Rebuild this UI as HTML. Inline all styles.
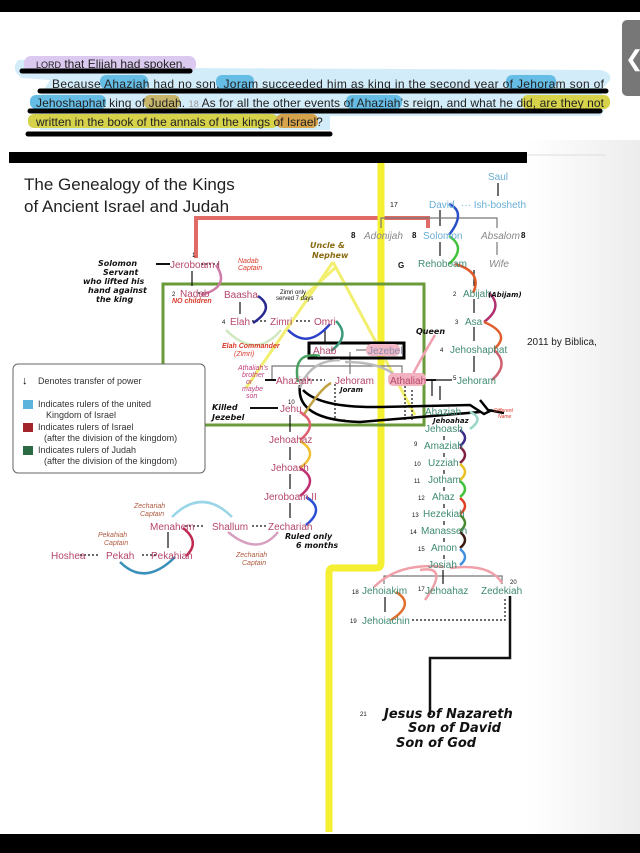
<!DOCTYPE html>
<html><head><meta charset="utf-8"><style>
html,body{margin:0;padding:0;background:#fff;}
svg{display:block;font-family:"Liberation Sans",sans-serif;}
.i{fill:#b5476a;font-size:10px}
.j{fill:#3f8a72;font-size:10px}
.u{fill:#6aaed6;font-size:10px}
.g{fill:#888;font-size:10px;font-style:italic}
.h{fill:#111;font-size:8px;font-style:italic;font-weight:bold;font-family:"DejaVu Sans",sans-serif}
.r{fill:#d93a2a;font-size:7px;font-style:italic}
.n{fill:#111;font-size:6px}
.arc{fill:none;stroke-width:2.5}
.bt{font-size:12px;fill:#222}
</style></head><body>
<svg width="640" height="853" viewBox="0 0 640 853">
<defs><linearGradient id="gr" x1="0" x2="1"><stop offset="0" stop-color="#fff"/><stop offset="1" stop-color="#ececec"/></linearGradient></defs>
<rect width="640" height="853" fill="#fff"/>
<rect x="527" y="140" width="113" height="700" fill="url(#gr)"/>
<rect x="0" y="0" width="640" height="12" fill="#000"/>
<rect x="622" y="20" width="22" height="76" rx="5" fill="#777"/>
<text x="625" y="66" font-size="22" fill="#fff">❮</text>
<!-- highlights -->
<path d="M18,60 Q10,70 22,78 L50,80 L40,96 Q28,108 40,114 L40,130 L330,130 L330,116 L600,116 Q612,104 600,92 L610,80 Q612,72 600,70 L190,68 L185,58 Z" fill="#d3ecf9"/>
<rect x="24" y="56" width="172" height="16" rx="7" fill="#dcc9f0"/>
<rect x="100" y="75" width="48" height="14" rx="6" fill="#65bde6"/>
<rect x="216" y="75" width="38" height="14" rx="6" fill="#65bde6"/>
<rect x="506" y="75" width="50" height="14" rx="6" fill="#65bde6"/>
<rect x="30" y="95" width="76" height="14" rx="6" fill="#65bde6"/>
<rect x="144" y="95" width="36" height="14" rx="6" fill="#c7b56a"/>
<rect x="346" y="95" width="56" height="14" rx="6" fill="#65bde6"/>
<rect x="522" y="95" width="88" height="14" rx="6" fill="#d6d24a"/>
<rect x="28" y="114" width="250" height="14" rx="6" fill="#d6d24a"/>
<rect x="276" y="114" width="42" height="14" rx="6" fill="#d6a24a"/>
<g class="bt">
<text x="36" y="68"><tspan font-size="9">LORD</tspan> that Elijah had spoken.</text>
<text x="52" y="88" textLength="552">Because Ahaziah had no son, Joram succeeded him as king in the second year of Jehoram son of</text>
<text x="36" y="107" textLength="568">Jehoshaphat king of Judah. <tspan fill="#999" font-size="9">18</tspan> As for all the other events of Ahaziah’s reign, and what he did, are they not</text>
<text x="36" y="126">written in the book of the annals of the kings of Israel?</text>
</g>
<g stroke="#000" stroke-linecap="round" fill="none">
<line x1="22" y1="71" x2="190" y2="71" stroke-width="5"/>
<line x1="40" y1="91" x2="606" y2="91" stroke-width="5"/>
<line x1="30" y1="111" x2="600" y2="111" stroke-width="5"/>
<line x1="28" y1="134" x2="330" y2="134" stroke-width="5"/>
</g>
<line x1="330" y1="155" x2="606" y2="155" stroke="#ddd"/>
<rect x="9" y="152" width="518" height="11" fill="#000"/>
<rect x="0" y="834" width="640" height="19" fill="#000"/>
<!-- title -->
<text x="24" y="190" font-size="17" fill="#222">The Genealogy of the Kings</text>
<text x="24" y="212" font-size="17" fill="#222">of Ancient Israel and Judah</text>
<!-- red line -->
<path d="M196,258 V218 H428 V228" fill="none" stroke="#e06b66" stroke-width="4"/>
<!-- yellow -->
<path d="M381,163 V245 M381,245 V563 Q381,568 376,568 H333 Q329,568 329,573 V832" fill="none" stroke="#f4ef30" stroke-width="7"/>
<path d="M333,262 L246,388 M333,262 L415,415 M335,268 L300,300" fill="none" stroke="#f2ef70" stroke-width="3"/>
<!-- green rect -->
<rect x="163" y="284" width="261" height="141" fill="none" stroke="#6a9a3a" stroke-width="3"/>
<!-- legend -->
<rect x="13" y="364" width="192" height="109" rx="5" fill="#fff" stroke="#666"/>
<text x="22" y="384" font-size="11">↓</text><text x="38" y="384" font-size="9" fill="#333">Denotes transfer of power</text>
<rect x="23" y="400" width="10" height="9" fill="#5ab4dc"/><text x="38" y="407" font-size="9" fill="#333">Indicates rulers of the united</text>
<text x="46" y="418" font-size="9" fill="#333">Kingdom of Israel</text>
<rect x="23" y="423" width="10" height="9" fill="#a3242a"/><text x="38" y="430" font-size="9" fill="#333">Indicates rulers of Israel</text>
<text x="44" y="441" font-size="9" fill="#333">(after the division of the kingdom)</text>
<rect x="23" y="446" width="10" height="9" fill="#2c6a44"/><text x="38" y="453" font-size="9" fill="#333">Indicates rulers of Judah</text>
<text x="44" y="464" font-size="9" fill="#333">(after the division of the kingdom)</text>
<text x="527" y="345" font-size="10" fill="#222">2011 by Biblica,</text>
<!-- Judah tree lines -->
<g stroke="#111" fill="none" stroke-width="1.2">
<line x1="498" y1="183" x2="498" y2="196"/><line x1="440" y1="210" x2="440" y2="226"/>
<path d="M381,228 V218 H497 V228" stroke="#777"/><line x1="497" y1="242" x2="497" y2="255" stroke="#777"/>
<line x1="440" y1="242" x2="440" y2="256"/>
<line x1="474" y1="270" x2="474" y2="286"/><line x1="474" y1="299" x2="474" y2="313"/>
<line x1="474" y1="327" x2="474" y2="341"/><line x1="474" y1="356" x2="474" y2="372"/>
<path d="M440,386 V400 M428,380 H452" />
<line x1="444" y1="436" x2="444" y2="440"/><line x1="444" y1="453" x2="444" y2="457"/><line x1="444" y1="470" x2="444" y2="474"/><line x1="444" y1="487" x2="444" y2="491"/><line x1="444" y1="504" x2="444" y2="508"/><line x1="444" y1="521" x2="444" y2="525"/><line x1="444" y1="538" x2="444" y2="542"/><line x1="444" y1="555" x2="444" y2="559"/>
<path d="M384,584 V576 H502 V584" stroke="#777"/><line x1="443" y1="570" x2="443" y2="584"/>
<line x1="385" y1="597" x2="385" y2="612"/>
<path d="M412,620 H505 V598" stroke-dasharray="2 2"/>
<path d="M510,596 V658 H430 V715" stroke-width="2.5"/>
<!-- israel -->
<line x1="192" y1="271" x2="192" y2="286"/><line x1="240" y1="302" x2="240" y2="314"/>
<line x1="325" y1="328" x2="325" y2="343"/>
<path d="M272,380 V366 H402 V374" stroke="#777"/><line x1="350" y1="352" x2="350" y2="374" stroke="#777"/>
<path d="M356,350 H378" stroke="#777"/>
<line x1="290" y1="415" x2="290" y2="432"/><line x1="290" y1="447" x2="290" y2="460"/><line x1="290" y1="474" x2="290" y2="489"/><line x1="290" y1="503" x2="290" y2="518"/>
<line x1="168" y1="532" x2="168" y2="548"/>
<path d="M201,264 H219 M198,293 H210 M252,321 H266 M296,321 H312 M142,555 H156 M80,555 H100 M185,526 H204 M252,526 H268 M300,380 H325" stroke-dasharray="2 2"/>
<path d="M265,380 H276 M250,408 H278 M156,264 H170 M423,380 H436" stroke-width="2"/>
<path d="M432,380 V396" />
<path d="M345,420 H335 V382 M405,420 V386 M412,420 V390" stroke-dasharray="2 2"/>
</g>
<!-- black bold -->
<rect x="309" y="343" width="95" height="15" fill="none" stroke="#000" stroke-width="3"/>
<path d="M303,390 Q320,408 380,407 L470,405 L484,414 L492,410 M300,385 Q295,420 360,422 L480,412 M480,400 L488,410 L504,413" fill="none" stroke="#000" stroke-width="2.5"/>
<!-- colored arcs -->
<g class="arc">
<path d="M449,204 q18,8 0,31" stroke="#2a50c8"/>
<path d="M449,236 q18,12 0,28" stroke="#42c23a"/>
<path d="M455,264 q28,8 18,29" stroke="#e05a2a"/>
<path d="M489,293 q15,14 -5,29" stroke="#b03070"/>
<path d="M484,322 q28,12 10,27" stroke="#e06030"/>
<path d="M494,350 q16,14 -2,30" stroke="#d06070"/>
<path d="M470,412 q15,6 0,17" stroke="#9ad6c8"/>
<path d="M460,430 q10,8 0,16" stroke="#3a2a8a"/>
<path d="M460,447 q10,8 0,16" stroke="#802040"/>
<path d="M460,464 q10,8 0,16" stroke="#e8c020"/>
<path d="M460,481 q10,8 0,16" stroke="#42c23a"/>
<path d="M460,498 q10,8 0,16" stroke="#e04020"/>
<path d="M460,515 q10,8 0,16" stroke="#4a8a30"/>
<path d="M460,532 q10,8 0,16" stroke="#3a1a10"/>
<path d="M460,549 q10,8 0,16" stroke="#4090e0"/>
<path d="M396,592 q20,12 -5,28" stroke="#e07030"/>
<path d="M216,265 q15,22 -15,30" stroke="#d07aa8"/>
<path d="M258,296 q18,12 -5,27" stroke="#2a2a90"/>
<path d="M226,330 q30,30 55,0" stroke="#cfe8c0"/>
<path d="M288,330 q20,20 42,-6" stroke="#2a40c8"/>
<path d="M336,321 q15,15 -5,30" stroke="#3a9a78"/>
<path d="M320,356 q-28,-5 -22,26" stroke="#4aa060"/>
<path d="M340,360 q-30,0 -40,28 M345,362 q40,0 55,18" stroke="#bbb"/>
<path d="M303,416 q18,-28 28,-33" stroke="#c0a040"/>
<path d="M300,412 q20,12 0,28" stroke="#e06070"/>
<path d="M300,441 q20,12 0,27" stroke="#f0c030"/>
<path d="M300,468 q20,12 0,28" stroke="#c03070"/>
<path d="M306,497 q20,12 0,28" stroke="#2a50d8"/>
<path d="M172,517 q30,-30 60,0" stroke="#9ad6e8"/>
<path d="M228,532 q30,25 50,0" stroke="#d8a0c0"/>
<path d="M183,528 q18,14 3,28" stroke="#c02a50"/>
<path d="M120,562 q25,25 55,-5" stroke="#3a90b8"/>
<path d="M374,587 q25,-25 70,-20 M420,570 q30,-5 5,30 M450,568 q40,-5 52,15" stroke="#f0a0a8"/>
<path d="M410,380 q10,-20 25,-45" stroke="#f0a0b0"/>
</g>
<rect x="388" y="373" width="38" height="13" rx="5" fill="#f2b2c0"/>
<rect x="366" y="344" width="34" height="12" rx="5" fill="#f0b8c4"/>
<!-- Judah names -->
<text x="488" y="180" class="u">Saul</text>
<text x="429" y="208" class="u">David</text><text x="461" y="208" class="u">··· Ish-bosheth</text>
<text x="364" y="239" class="g">Adonijah</text><text x="423" y="239" class="u">Solomon</text><text x="481" y="239" class="g">Absalom</text>
<text x="418" y="267" class="j">Rehoboam</text><text x="489" y="267" class="g">Wife</text>
<text x="463" y="297" class="j">Abijah</text><text x="465" y="325" class="j">Asa</text>
<text x="450" y="353" class="j">Jehoshaphat</text><text x="457" y="384" class="j">Jehoram</text>
<text x="425" y="415" class="j">Ahaziah</text><text x="425" y="432" class="j">Jehoash</text>
<text x="424" y="449" class="j">Amaziah</text><text x="428" y="466" class="j">Uzziah</text>
<text x="428" y="483" class="j">Jotham</text><text x="432" y="500" class="j">Ahaz</text>
<text x="423" y="517" class="j">Hezekiah</text><text x="421" y="534" class="j">Manasseh</text>
<text x="431" y="551" class="j">Amon</text><text x="428" y="568" class="j">Josiah</text>
<text x="362" y="594" class="j">Jehoiakim</text><text x="425" y="594" class="j">Jehoahaz</text><text x="481" y="594" class="j">Zedekiah</text>
<text x="362" y="624" class="j">Jehoiachin</text>
<!-- Israel names -->
<text x="170" y="268" class="i">Jeroboam I</text>
<text x="180" y="297" class="i">Nadab</text><text x="224" y="298" class="i">Baasha</text>
<text x="230" y="325" class="i">Elah</text><text x="270" y="325" class="i">Zimri</text><text x="314" y="325" class="i">Omri</text>
<text x="313" y="354" class="i">Ahab</text><text x="368" y="354" class="i" style="fill:#8a8ab0">Jezebel</text>
<text x="276" y="384" class="i">Ahaziah</text><text x="335" y="384" class="i">Jehoram</text><text x="390" y="384" class="i">Athaliah</text>
<text x="280" y="412" class="i">Jehu</text><text x="269" y="443" class="i">Jehoahaz</text>
<text x="271" y="471" class="i">Jehoash</text><text x="264" y="500" class="i">Jeroboam II</text>
<text x="268" y="530" class="i">Zechariah</text><text x="212" y="530" class="i">Shallum</text><text x="150" y="530" class="i">Menahem</text>
<text x="151" y="559" class="i">Pekahiah</text><text x="106" y="559" class="i">Pekah</text><text x="51" y="559" class="i">Hoshea</text>
<!-- handwriting -->
<text x="98" y="266" class="h">Solomon</text><text x="103" y="275" class="h">Servant</text>
<text x="83" y="284" class="h">who lifted his</text><text x="88" y="293" class="h">hand against</text><text x="96" y="302" class="h">the king</text>
<text x="238" y="263" class="r">Nadab</text><text x="238" y="270" class="r">Captain</text>
<text x="172" y="303" class="r" style="font-weight:bold">NO children</text>
<text x="222" y="348" class="r" style="font-weight:bold">Elah Commander</text><text x="234" y="356" class="r">(Zimri)</text>
<text x="238" y="370" class="r" style="fill:#c04080">Athaliah's</text><text x="242" y="377" class="r" style="fill:#c04080">brother</text><text x="246" y="384" class="r" style="fill:#c04080">or</text><text x="242" y="391" class="r" style="fill:#c04080">maybe</text><text x="246" y="398" class="r" style="fill:#c04080">son</text>
<text x="212" y="410" class="h">Killed</text><text x="212" y="420" class="h">Jezebel</text>
<text x="280" y="294" class="n">Zimri only</text><text x="276" y="300" class="n">served 7 days</text>
<text x="310" y="248" class="h" style="fill:#8a6a10">Uncle &amp;</text><text x="312" y="258" class="h" style="fill:#8a6a10">Nephew</text>
<text x="416" y="334" class="h">Queen</text>
<text x="340" y="392" class="h" style="font-size:7px">Joram</text>
<text x="433" y="423" class="h" style="font-size:7px">Jehoahaz</text>
<text x="494" y="412" class="r" style="font-size:5px">Different</text><text x="498" y="418" class="r" style="font-size:5px">Name</text>
<text x="488" y="297" class="h" style="font-size:7px">(Abijam)</text>
<text x="134" y="508" class="r" style="fill:#b05a40">Zechariah</text><text x="140" y="516" class="r" style="fill:#b05a40">Captain</text>
<text x="98" y="537" class="r" style="fill:#b05a40">Pekahiah</text><text x="104" y="545" class="r" style="fill:#b05a40">Captain</text>
<text x="236" y="557" class="r" style="fill:#b05a40">Zechariah</text><text x="242" y="565" class="r" style="fill:#b05a40">Captain</text>
<text x="285" y="539" class="h">Ruled only</text><text x="296" y="548" class="h">6 months</text>
<text x="384" y="718" class="h" style="font-size:13px">Jesus of Nazareth</text>
<text x="408" y="732" class="h" style="font-size:13px">Son of David</text>
<text x="396" y="747" class="h" style="font-size:13px">Son of God</text>
<text x="360" y="716" class="n">21</text>
<text x="390" y="207" class="n" style="font-size:7px">17</text>
<text x="351" y="238" class="n" style="font-size:8px;font-weight:bold">8</text><text x="412" y="238" class="n" style="font-size:8px;font-weight:bold">8</text><text x="521" y="238" class="n" style="font-size:8px;font-weight:bold">8</text>
<text x="398" y="268" class="n" style="font-size:8px;font-weight:bold">G</text>
<text x="453" y="296" class="n">2</text><text x="455" y="324" class="n">3</text><text x="440" y="352" class="n">4</text><text x="453" y="380" class="n">5</text>
<text x="414" y="446" class="n">9</text><text x="414" y="466" class="n">10</text><text x="414" y="483" class="n">11</text><text x="418" y="500" class="n">12</text><text x="412" y="517" class="n">13</text><text x="410" y="534" class="n">14</text><text x="418" y="551" class="n">15</text>
<text x="352" y="594" class="n">18</text><text x="418" y="591" class="n">17</text><text x="510" y="584" class="n">20</text><text x="350" y="623" class="n">19</text>
<text x="172" y="296" class="n">2</text><text x="222" y="324" class="n">4</text><text x="192" y="257" class="n">1</text><text x="288" y="404" class="n">10</text>
</svg>
</body></html>
